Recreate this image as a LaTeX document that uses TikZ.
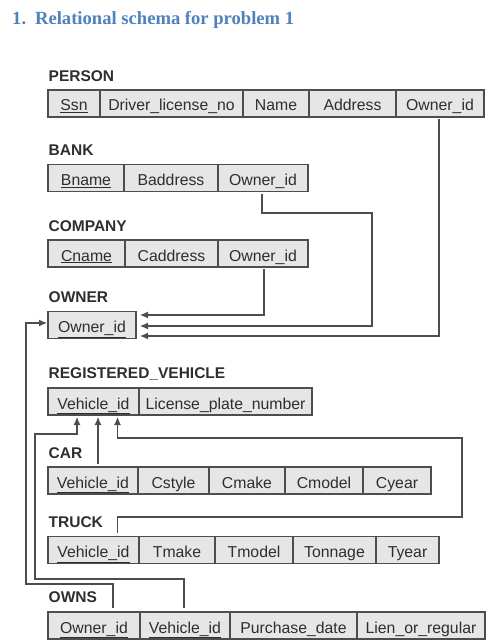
\documentclass[tikz,border=0pt]{standalone}
\usepackage{fontspec}
\setsansfont{Liberation Sans}
\newfontfamily\titlefont{Liberation Serif}
\usetikzlibrary{positioning,arrows.meta}
\definecolor{linegray}{HTML}{4D4D4D}
\definecolor{cellgray}{HTML}{E6E6E6}
\definecolor{textgray}{HTML}{2E2E2E}
\definecolor{titleblue}{HTML}{4F81BD}
\begin{document}
\begin{tikzpicture}[x=1pt, y=-1pt,
    cell/.style={draw=linegray, line width=1.1pt, fill=cellgray, text=textgray,
      minimum height=27pt, inner sep=0pt, outer sep=0pt, text height=15pt, text depth=0pt,
      font=\sffamily\fontsize{15.8}{18}\selectfont},
    lbl/.style={anchor=base west, inner sep=0pt, text=textgray,
      font=\sffamily\bfseries\fontsize{15.5}{18}\selectfont},
    fk/.style={draw=linegray, line width=1.1pt, -{Latex[length=8pt,width=7pt]}}]
                \useasboundingbox (0,0) rectangle (489,644);
                \node[anchor=base west, inner sep=0pt, text=titleblue, font=\titlefont\bfseries\fontsize{18.6}{22}\selectfont]
                    (title) at (12,25) {1.\hspace{9pt}Relational schema for problem 1};
                % PERSON
                \node[lbl] (perL) at (48.5,82) {PERSON};
                \node[cell, anchor=west, minimum width=52pt] (perSsn) at (48,103.5) {\underline{Ssn}};
                \node[cell, minimum width=143pt, right=0pt of perSsn] (perDrv) {Driver\_license\_no};
                \node[cell, minimum width=66pt, right=0pt of perDrv] (perName) {Name};
                \node[cell, minimum width=87pt, right=0pt of perName] (perAddr) {Address};
                \node[cell, minimum width=88pt, right=0pt of perAddr] (perOwner) {Owner\_id};
                % BANK
                \node[lbl] (bankL) at (48.5,156) {BANK};
                \node[cell, anchor=west, minimum width=76pt] (bankName) at (48,178) {\underline{Bname}};
                \node[cell, minimum width=94pt, right=0pt of bankName] (bankAddr) {Baddress};
                \node[cell, minimum width=90pt, right=0pt of bankAddr] (bankOwner) {Owner\_id};
                % COMPANY
                \node[lbl] (compL) at (48.5,231) {COMPANY};
                \node[cell, anchor=west, minimum width=77pt] (compName) at (48,253.5) {\underline{Cname}};
                \node[cell, minimum width=93pt, right=0pt of compName] (compAddr) {Caddress};
                \node[cell, minimum width=90pt, right=0pt of compAddr] (compOwner) {Owner\_id};
                % OWNER
                \node[lbl] (ownL) at (48.5,302) {OWNER};
                \node[cell, anchor=west, minimum width=88pt] (ownId) at (48,325) {\underline{Owner\_id}};
                % REGISTERED_VEHICLE
                \node[lbl] (regL) at (48.5,378) {REGISTERED\_VEHICLE};
                \node[cell, anchor=west, minimum width=91pt] (regVeh) at (48,401.5) {\underline{Vehicle\_id}};
                \node[cell, minimum width=173pt, right=0pt of regVeh] (regPlate) {License\_plate\_number};
                % CAR
                \node[lbl] (carL) at (48.5,458) {CAR};
                \node[cell, anchor=west, minimum width=90pt] (carVeh) at (48,480.5) {\underline{Vehicle\_id}};
                \node[cell, minimum width=71pt, right=0pt of carVeh] (carStyle) {Cstyle};
                \node[cell, minimum width=76pt, right=0pt of carStyle] (carMake) {Cmake};
                \node[cell, minimum width=78pt, right=0pt of carMake] (carModel) {Cmodel};
                \node[cell, minimum width=68pt, right=0pt of carModel] (carYear) {Cyear};
                % TRUCK
                \node[lbl] (truckL) at (48.5,527) {TRUCK};
                \node[cell, anchor=west, minimum width=91pt] (truckVeh) at (48,550) {\underline{Vehicle\_id}};
                \node[cell, minimum width=76pt, right=0pt of truckVeh] (truckMake) {Tmake};
                \node[cell, minimum width=78pt, right=0pt of truckMake] (truckModel) {Tmodel};
                \node[cell, minimum width=83pt, right=0pt of truckModel] (truckTon) {Tonnage};
                \node[cell, minimum width=63pt, right=0pt of truckTon] (truckYear) {Tyear};
                % OWNS
                \node[lbl] (ownsL) at (48.5,602) {OWNS};
                \node[cell, anchor=west, minimum width=92pt] (ownsOwner) at (48,625.5) {\underline{Owner\_id}};
                \node[cell, minimum width=90pt, right=0pt of ownsOwner] (ownsVeh) {\underline{Vehicle\_id}};
                \node[cell, minimum width=127pt, right=0pt of ownsVeh] (ownsDate) {Purchase\_date};
                \node[cell, minimum width=128pt, right=0pt of ownsDate] (ownsLien) {Lien\_or\_regular};
                % foreign keys to OWNER
                \draw[fk, shorten <=2pt, shorten >=4pt] ([xshift=-1pt]perOwner.south) |- ([yshift=-11pt]ownId.east);
                \draw[fk, shorten <=3pt, shorten >=4pt] ([xshift=-1pt]bankOwner.south) |- (372,213) |- ([yshift=-1pt]ownId.east);
                \draw[fk, shorten <=2pt, shorten >=4pt] ([xshift=1pt]compOwner.south) |- ([yshift=10pt]ownId.east);
                \draw[fk, shorten <=4pt, shorten >=1pt] ([xshift=19pt]ownsOwner.north) |- (26,584) |- ([yshift=2pt]ownId.west);
                % foreign keys to REGISTERED_VEHICLE
                \draw[fk, shorten <=4pt, shorten >=2pt] ([xshift=-1pt]ownsVeh.north) |- (35,579) |- (77,434) -- ([xshift=-16.5pt]regVeh.south);
                \draw[fk, shorten <=3pt, shorten >=2pt] ([xshift=5pt]carVeh.north) -- ([xshift=4.5pt]regVeh.south);
                \draw[fk, shorten <=4pt, shorten >=2pt] ([xshift=24pt]truckVeh.north) |- (462,517) |- (117.5,438) -- ([xshift=24pt]regVeh.south);
            \end{tikzpicture}
\end{document}
